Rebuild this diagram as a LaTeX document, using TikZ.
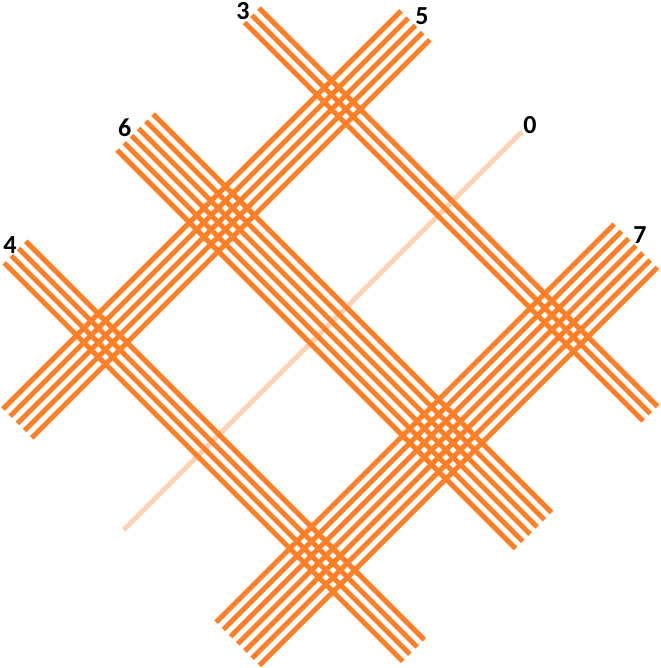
\documentclass[tikz,border=0pt]{standalone}
\usepackage{fontspec}
\setmainfont{Carlito}
\usepackage{tikz, xcolor}
\definecolor{barorange}{RGB}{255,127,39}

\begin{document}
\begin{tikzpicture}[x=1pt, y=-1pt,
    bar/.style={draw=barorange, line width=5pt},
    faint/.style={draw=barorange!35, line width=5pt},
    num/.style={font=\bfseries\fontsize{26}{26}\selectfont, inner sep=0pt}]

    \useasboundingbox (0,0) rectangle (660,668);

    % bundle 0 (empty, shown faint)
    \draw[faint] ({(653.7+390)/2},{(653.7-390)/2}) -- ({(653.7-406)/2},{(653.7+406)/2});

    % bundles running down to the right: first offset / number of lines - 1
    \foreach \cz/\n in {-251/2, -39/5, 215.5/3} {
        \foreach \i in {0,...,\n} {
            \pgfmathsetmacro\c{\cz+14.4*\i}
            \draw[bar] ({(267-\c)/2},{(267+\c)/2}) -- ({(1064-\c)/2},{(1064+\c)/2});
        }
    }
    % bundles running down to the left
    \foreach \dz/\n in {412/4, 838.4/6} {
        \foreach \i in {0,...,\n} {
            \pgfmathsetmacro\d{\dz+14.4*\i}
            \draw[bar] ({(\d+390)/2},{(\d-390)/2}) -- ({(\d-406)/2},{(\d+406)/2});
        }
    }

    \node[num] (n3) at (243,11) {3};
    \node[num] (n5) at (422,16) {5};
    \node[num] (n6) at (124.7,127.5) {6};
    \node[num] (n0) at (530,125) {0};
    \node[num] (n4) at (10,245) {4};
    \node[num] (n7) at (640,235) {7};
\end{tikzpicture}
\end{document}
